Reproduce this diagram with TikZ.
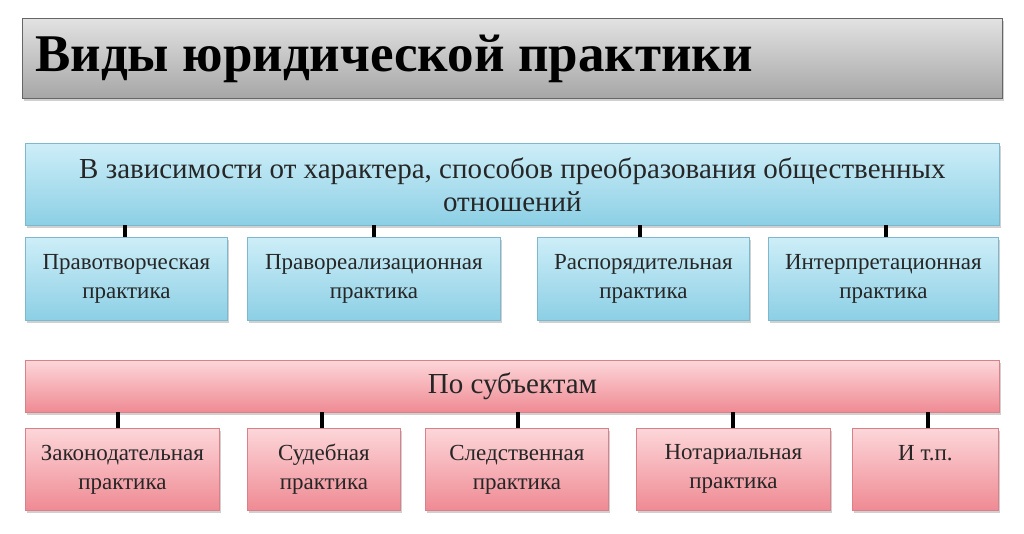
\documentclass[tikz,border=0pt]{standalone}
\usepackage{fontspec}
\setmainfont{Liberation Serif}
\usetikzlibrary{shadows}
\definecolor{btop}{HTML}{CDEEF8}
\definecolor{bbot}{HTML}{8CCFE5}
\definecolor{bdr}{HTML}{7FB8CC}
\definecolor{ptop}{HTML}{FCD6D9}
\definecolor{pbot}{HTML}{EF8A93}
\definecolor{pdr}{HTML}{D98088}
\definecolor{gtop}{HTML}{E2E2E2}
\definecolor{gbot}{HTML}{A6A6A6}
\tikzset{
  bx/.style={draw, line width=0.8pt, align=center, text=black!85, anchor=north west, inner sep=0pt,
    drop shadow={shadow xshift=2pt, shadow yshift=-3pt, fill=black!30, opacity=0.6}},
  bluebox/.style={bx, draw=bdr, top color=btop, bottom color=bbot, font=\fontsize{23}{29}\selectfont},
  pinkbox/.style={bx, draw=pdr, top color=ptop, bottom color=pbot, font=\fontsize{23}{29}\selectfont},
  stub/.style={line width=4pt, black}
}
\begin{document}
\begin{tikzpicture}[x=1pt,y=-1pt]
\useasboundingbox[fill=white] (0,0) rectangle (1024,533);
\node[bx, draw=black!60, top color=gtop, bottom color=gbot, minimum width=980pt, minimum height=80pt] (title) at (22,18) {};
\node[anchor=west, inner sep=0pt, font=\fontsize{53}{60}\selectfont\bfseries] (tt) at (title.west) [xshift=13pt] {Виды юридической практики};
\node[bluebox, minimum width=974pt, minimum height=82pt, font=\fontsize{29}{33}\selectfont] (b0) at (25,143) {В зависимости от характера, способов преобразования общественных\\отношений};
\node[bluebox, minimum width=202pt, minimum height=83pt] (b1) at (25,237) {Правотворческая\\практика};
\node[bluebox, minimum width=253pt, minimum height=83pt] (b2) at (247,237) {Правореализационная\\практика};
\node[bluebox, minimum width=212pt, minimum height=83pt] (b3) at (537,237) {Распорядительная\\практика};
\node[bluebox, minimum width=230pt, minimum height=83pt] (b4) at (768,237) {Интерпретационная\\практика};
\foreach \x in {125,374,640,886}
  \draw[stub] (\x,225) -- (\x,237);
\node[pinkbox, minimum width=974pt, minimum height=52pt, font=\fontsize{29}{33}\selectfont] (p0) at (25,360) {По субъектам};
\node[pinkbox, minimum width=194pt, minimum height=82pt] (p1) at (25,428) {Законодательная\\практика};
\node[pinkbox, minimum width=153pt, minimum height=82pt] (p2) at (247,428) {Судебная\\практика};
\node[pinkbox, minimum width=183pt, minimum height=82pt] (p3) at (425,428) {Следственная\\практика};
\node[pinkbox, minimum width=194pt, minimum height=82pt] (p4) at (636,428) {Нотариальная\\практика};
\node[pinkbox, minimum width=146pt, minimum height=82pt, text depth=33pt] (p5) at (852,428) {И т.п.};
\foreach \x in {118,322,518,733,928}
  \draw[stub] (\x,412) -- (\x,428);
\end{tikzpicture}
\end{document}
